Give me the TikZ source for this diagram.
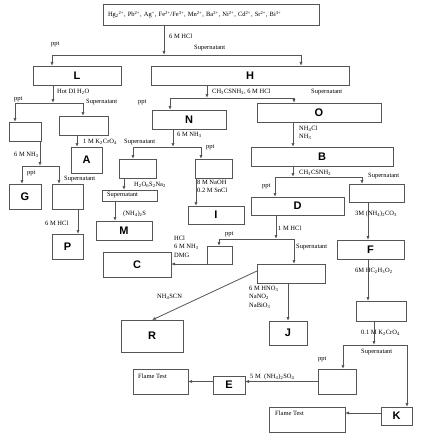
\documentclass[tikz,border=0pt]{standalone}
\usepackage{fontspec}
\setmainfont{Liberation Serif}
\setsansfont{Liberation Sans}
\usetikzlibrary{arrows.meta, positioning, calc}
\definecolor{linegray}{RGB}{85,85,85}
\tikzset{
	box/.style={draw=linegray, line width=0.8pt, inner sep=0pt, outer sep=0pt,
		font=\sffamily\bfseries\fontsize{11}{11}\selectfont}
}
\tikzset{
	reagent/.style={font=\fontsize{6.5}{8.5}\selectfont, inner sep=0pt, anchor=west, align=left},
	conn/.style={draw=linegray, line width=0.8pt},
	arr/.style={conn, -{Latex[length=4pt,width=3.2pt]}},
	split/.style={conn, {Latex[length=4pt,width=3.2pt]}-{Latex[length=4pt,width=3.2pt]}}
}
\newcommand{\ion}[2]{#1\textsuperscript{#2}}
\newcommand{\sub}[1]{\textsubscript{#1}}

\begin{document}
\begin{tikzpicture}[x=1pt, y=-1pt]
      \path[use as bounding box, fill=white] (0,0) rectangle (420,436);

      % boxes
      \node[box, minimum width=216, minimum height=21, text width=206,
        font=\fontsize{6.5}{7}\selectfont] (top) at (211,14.5)
        {Hg\sub{2}\textsuperscript{2+}, \ion{Pb}{2+}, \ion{Ag}{+}, \ion{Fe}{2+}/\ion{Fe}{3+}, \ion{Mn}{2+}, \ion{Ba}{2+}, \ion{Ni}{2+}, \ion{Cd}{2+}, \ion{Sr}{2+}, \ion{Bi}{3+}};
      \node[box, minimum width=88, minimum height=19] (L) at (77,75.5) {L};
      \node[box, minimum width=198, minimum height=19] (H) at (250,75.5) {H};
      \node[box, minimum width=32, minimum height=19] (lp) at (25,131.5) {};
      \node[box, minimum width=49, minimum height=19] (ls) at (83.5,125.5) {};
      \node[box, minimum width=31, minimum height=26] (A) at (86.5,160) {A};
      \node[box, minimum width=32, minimum height=25] (G) at (25,196.5) {G};
      \node[box, minimum width=31, minimum height=25] (gs) at (67.5,196.5) {};
      \node[box, minimum width=31, minimum height=25] (P) at (67.5,246.5) {P};
      \node[box, minimum width=74, minimum height=19] (N) at (189,119.5) {N};
      \node[box, minimum width=124, minimum height=19] (O) at (319,112.5) {O};
      \node[box, minimum width=37, minimum height=19] (ns) at (137.5,168.5) {};
      \node[box, minimum width=37, minimum height=19] (np) at (213.5,168.5) {};
      \node[box, minimum width=55, minimum height=11, text width=45,
        font=\fontsize{6.5}{7}\selectfont] (sup) at (129.5,195.5) {Supernatant};
      \node[box, minimum width=56, minimum height=19] (M) at (124,230.5) {M};
      \node[box, minimum width=56, minimum height=18] (I) at (216,215) {I};
      \node[box, minimum width=142, minimum height=19] (B) at (322,156.5) {B};
      \node[box, minimum width=55, minimum height=18] (bs) at (376.5,193) {};
      \node[box, minimum width=93, minimum height=18] (D) at (297.5,206) {D};
      \node[box, minimum width=67, minimum height=19] (F) at (370.5,249.5) {F};
      \node[box, minimum width=50, minimum height=20] (fb) at (381,311) {};
      \node[box, minimum width=25, minimum height=18] (dp) at (219.5,255) {};
      \node[box, minimum width=68, minimum height=25] (C) at (137,264.5) {C};
      \node[box, minimum width=68, minimum height=19] (ds) at (291,273.5) {};
      \node[box, minimum width=62, minimum height=32] (R) at (152,336) {R};
      \node[box, minimum width=38, minimum height=24] (J) at (288,333) {J};
      \node[box, minimum width=38, minimum height=25] (kp) at (337,381.5) {};
      \node[box, minimum width=32, minimum height=18] (E) at (229,385) {E};
      \node[box, minimum width=55, minimum height=25,
        label={[reagent, anchor=north west, xshift=5pt, yshift=-5pt]north west:Flame Test}] (ft1) at (160.5,381.5) {};
      \node[box, minimum width=31, minimum height=18] (K) at (396.5,416) {K};
      \node[box, minimum width=76, minimum height=25,
        label={[reagent, anchor=north west, xshift=6pt, yshift=-4pt]north west:Flame Test}] (ft2) at (307,419.5) {};

      % branch points
      \coordinate (t0) at (164,55);  \coordinate (t0l) at (52,55);  \coordinate (t0r) at (301,55);
      \coordinate (t1) at (53,103);  \coordinate (t1l) at (15,103); \coordinate (t1r) at (83,103);
      \coordinate (t2) at (40,166);  \coordinate (t2l) at (22,166); \coordinate (t2r) at (59,166);
      \coordinate (t3) at (207,98);  \coordinate (t3l) at (170,98); \coordinate (t3r) at (294,98);
      \coordinate (t4) at (173,147); \coordinate (t4l) at (133,147); \coordinate (t4r) at (201,147);
      \coordinate (t5) at (293,177); \coordinate (t5l) at (275,177); \coordinate (t5r) at (362,177);
      \coordinate (t6) at (276,239); \coordinate (t6l) at (219,239); \coordinate (t6r) at (294,239);
      \coordinate (t7) at (374,345); \coordinate (t7l) at (343,345); \coordinate (t7r) at (407,345);

      % 6 M HCl split
      \draw[arr] (top.south -| t0) -- (t0);
      \draw[split] (L.north -| t0l) -- (t0l) -- (t0r) -- (H.north -| t0r);

      % L side
      \draw[arr] (L.south -| t1) -- (t1);
      \draw[split] (lp.north -| t1l) -- (t1l) -- (t1r) -- (ls.north -| t1r);
      \draw[arr] (ls.south -| 77,0) -- (A.north -| 77,0);
      \draw[arr] (lp.south -| t2) -- (t2);
      \draw[split] (G.north -| t2l) -- (t2l) -- (t2r) -- (gs.north -| t2r);
      \draw[arr] (gs.south -| 78,0) -- (P.north -| 78,0);

      % H side
      \draw[arr] (H.south -| t3) -- (t3);
      \draw[split] (N.north -| t3l) -- (t3l) -- (t3r) -- (O.north -| t3r);
      \draw[arr] (N.south -| t4) -- (t4);
      \draw[split] (ns.north -| t4l) -- (t4l) -- (t4r) -- (np.north -| t4r);
      \draw[arr] (ns.south -| 124,0) -- (sup.north -| 124,0);
      \draw[arr] (sup.south -| 115,0) -- (M.north -| 115,0);
      \draw[arr] (np.south -| 196,0) -- (I.north -| 196,0);

      % O side
      \draw[arr] (O.south -| 293,0) -- (B.north -| 293,0);
      \draw[arr] (B.south -| t5) -- (t5);
      \draw[split] (D.north -| t5l) -- (t5l) -- (t5r) -- (bs.north -| t5r);
      \draw[arr] (bs.south -| 368,0) -- (F.north -| 368,0);
      \draw[arr] (F.south -| 368,0) -- (fb.north -| 368,0);

      % D side
      \draw[arr] (D.south -| t6) -- (t6);
      \draw[split] (dp.north -| t6l) -- (t6l) -- (t6r) -- (ds.north -| t6r);
      \draw[arr] (dp.south west) -- (C.east |- dp.south west);
      \draw[arr] (ds.west |- 0,271) -- (R.north);
      \draw[arr] (ds.south -| J) -- (J.north);

      % chromate split and flame tests
      \draw[arr] (fb.south -| t7) -- (t7);
      \draw[split] (kp.north -| t7l) -- (t7l) -- (t7r) -- (K.north -| t7r);
      \draw[arr] (kp.west) -- (E.east |- kp.west);
      \draw[arr] (E.west |- ft1.east) -- (ft1.east);
      \draw[arr] (K.west |- 0,413) -- (ft2.east |- 0,413);

      % reagents and fractions
      \node[reagent] (r1) at (169,36) {6 M HCl};
      \node[reagent] (r2) at (194,48) {Supernatant};
      \node[reagent] (r3) at (51,44) {ppt};
      \node[reagent] (r4) at (57,92) {Hot DI H\sub{2}O};
      \node[reagent] (r5) at (14,99) {ppt};
      \node[reagent] (r6) at (86,102) {Supernatant};
      \node[reagent] (r7) at (83,142) {1 M K\sub{2}CrO\sub{4}};
      \node[reagent] (r8) at (14,155) {6 M NH\sub{3}};
      \node[reagent] (r9) at (27,173) {ppt};
      \node[reagent] (r10) at (64,179) {Supernatant};
      \node[reagent] (r11) at (45,223) {6 M HCl};
      \node[reagent] (r12) at (212,92) {CH\sub{3}CSNH\sub{2}, 6 M HCl};
      \node[reagent] (r13) at (311,92) {Supernatant};
      \node[reagent] (r14) at (138,102) {ppt};
      \node[reagent] (r15) at (177,135) {6 M NH\sub{3}};
      \node[reagent] (r16) at (124,142) {Supernatant};
      \node[reagent] (r17) at (206,147) {ppt};
      \node[reagent] (r18) at (134,185) {H\sub{2}O\sub{6}S\sub{2}Na\sub{2}};
      \node[reagent] (r19) at (123,214) {(NH\sub{4})\sub{2}S};
      \node[reagent] (r20) at (197,186.5) {8 M NaOH\\0.2 M SnCl};
      \node[reagent] (r21) at (299,133) {NH\sub{4}Cl\\NH\sub{3}};
      \node[reagent] (r22) at (299,173) {CH\sub{3}CSNH\sub{2}};
      \node[reagent] (r23) at (368,176) {Supernatant};
      \node[reagent] (r24) at (262,186) {ppt};
      \node[reagent] (r25) at (355,214) {3M (NH\sub{4})\sub{2}CO\sub{3}};
      \node[reagent] (r26) at (278,228) {1 M HCl};
      \node[reagent] (r27) at (225,234) {ppt};
      \node[reagent] (r28) at (296,247) {Supernatant};
      \node[reagent] (r29) at (174,246.5) {HCl\\6 M NH\sub{3}\\DMG};
      \node[reagent] (r30) at (355,271) {6M HC\sub{2}H\sub{3}O\sub{2}};
      \node[reagent] (r31) at (157,297) {NH\sub{4}SCN};
      \node[reagent] (r32) at (249,297) {6 M HNO\sub{3}\\NaNO\sub{2}\\NaBiO\sub{3}};
      \node[reagent] (r33) at (361,333) {0.1 M K\sub{2}CrO\sub{4}};
      \node[reagent] (r34) at (361,352) {Supernatant};
      \node[reagent] (r35) at (318,359) {ppt};
      \node[reagent] (r36) at (250,377) {5 M\ \ (NH\sub{4})\sub{2}SO\sub{4}};
    \end{tikzpicture}
\end{document}
